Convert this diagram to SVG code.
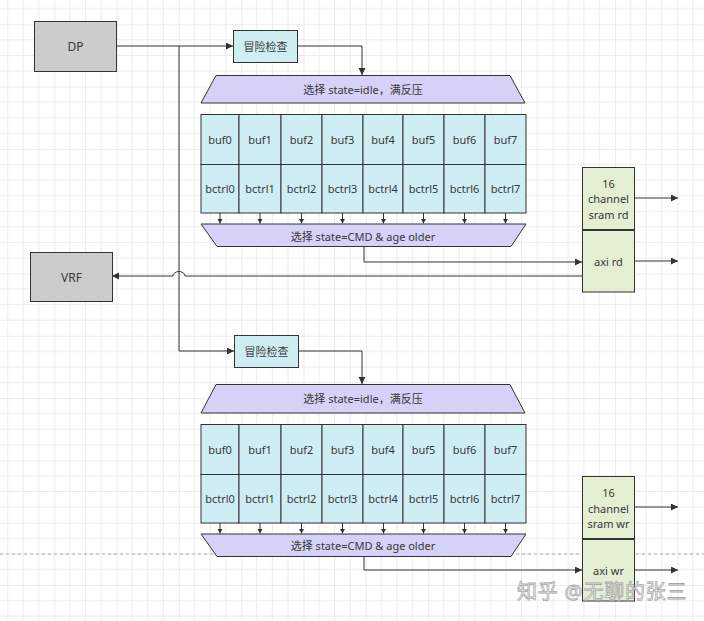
<svg xmlns="http://www.w3.org/2000/svg" width="704" height="621" viewBox="0 0 704 621">
<defs>
<pattern id="grid" patternUnits="userSpaceOnUse" x="-8" y="-38" width="62.3" height="62.3">
<rect x="15.08" y="0" width="1" height="62.3" fill="#ebebeb"/>
<rect x="30.65" y="0" width="1" height="62.3" fill="#ebebeb"/>
<rect x="46.23" y="0" width="1" height="62.3" fill="#ebebeb"/>
<rect x="0" y="15.08" width="62.3" height="1" fill="#ebebeb"/>
<rect x="0" y="30.65" width="62.3" height="1" fill="#ebebeb"/>
<rect x="0" y="46.23" width="62.3" height="1" fill="#ebebeb"/>
<rect x="-0.5" y="0" width="1" height="62.3" fill="#dadada"/>
<rect x="0" y="-0.5" width="62.3" height="1" fill="#dadada"/>
</pattern>
<marker id="arr" markerUnits="userSpaceOnUse" markerWidth="8" markerHeight="8" refX="7" refY="3.5" orient="auto">
<path d="M0,0 L7,3.5 L0,7 Z" fill="#333"/>
</marker>
<marker id="arrs" markerUnits="userSpaceOnUse" markerWidth="6" markerHeight="6" refX="5" refY="2.75" orient="auto">
<path d="M0,0 L5,2.75 L0,5.5 Z" fill="#333"/>
</marker>
</defs>
<style>
text{font-family:"Noto Sans","Noto Sans CJK SC",sans-serif;font-size:11px;fill:#383838;text-anchor:middle;dominant-baseline:central}
.gray{fill:#cccccc;stroke:#333;stroke-width:1}
.cyan{fill:#cfeef4;stroke:#333;stroke-width:1}
.lav{fill:#d5d1f7;stroke:#333;stroke-width:1}
.green{fill:#e3eed3;stroke:#333;stroke-width:1}
.ln{fill:none;stroke:#333;stroke-width:1}
.big{font-size:12px}
</style>
<rect width="704" height="621" fill="#fff"/>
<rect width="704" height="621" fill="url(#grid)"/>
<line x1="0" y1="554" x2="704" y2="554" stroke="#aaa" stroke-width="1" stroke-dasharray="3 3"/>

<g id="connectors">
<path class="ln" d="M116 46 H233" marker-end="url(#arr)"/>
<path class="ln" d="M179 46 V351 H234" marker-end="url(#arr)"/>
<path class="ln" d="M297 46 H362 V75" marker-end="url(#arr)"/>
<path class="ln" d="M298 351 H362 V384" marker-end="url(#arr)"/>
<path class="ln" d="M220 213 V223.5" marker-end="url(#arrs)"/>
<path class="ln" d="M260 213 V223.5" marker-end="url(#arrs)"/>
<path class="ln" d="M301.5 213 V223.5" marker-end="url(#arrs)"/>
<path class="ln" d="M342.5 213 V223.5" marker-end="url(#arrs)"/>
<path class="ln" d="M383.5 213 V223.5" marker-end="url(#arrs)"/>
<path class="ln" d="M423.5 213 V223.5" marker-end="url(#arrs)"/>
<path class="ln" d="M464.5 213 V223.5" marker-end="url(#arrs)"/>
<path class="ln" d="M505.5 213 V223.5" marker-end="url(#arrs)"/>
<path class="ln" d="M220 523 V533.5" marker-end="url(#arrs)"/>
<path class="ln" d="M260 523 V533.5" marker-end="url(#arrs)"/>
<path class="ln" d="M301.5 523 V533.5" marker-end="url(#arrs)"/>
<path class="ln" d="M342.5 523 V533.5" marker-end="url(#arrs)"/>
<path class="ln" d="M383.5 523 V533.5" marker-end="url(#arrs)"/>
<path class="ln" d="M423.5 523 V533.5" marker-end="url(#arrs)"/>
<path class="ln" d="M464.5 523 V533.5" marker-end="url(#arrs)"/>
<path class="ln" d="M505.5 523 V533.5" marker-end="url(#arrs)"/>
<path class="ln" d="M364 246 V262 H582" marker-end="url(#arr)"/>
<path class="ln" d="M364 556 V570 H582" marker-end="url(#arr)"/>
<path class="ln" d="M582 276 H185 A6 4.5 0 0 0 173 276 H112" marker-end="url(#arr)"/>
<path class="ln" d="M634 198 H678" marker-end="url(#arr)"/>
<path class="ln" d="M634 261 H678" marker-end="url(#arr)"/>
<path class="ln" d="M634 507 H678" marker-end="url(#arr)"/>
<path class="ln" d="M634 570 H678" marker-end="url(#arr)"/>
</g>

<g id="dp"><rect class="gray" x="34.5" y="21.5" width="82" height="50"/><text class="big" x="75.5" y="46.5">DP</text></g>
<g id="vrf"><rect class="gray" x="30.5" y="252.5" width="82" height="49"/><text class="big" x="71.5" y="277">VRF</text></g>

<g id="hazard1"><rect class="cyan" x="233.5" y="30.5" width="64" height="32"/><text x="265.5" y="46.5">冒险检查</text></g>
<g id="hazard2"><rect class="cyan" x="234.5" y="335.5" width="64" height="32"/><text x="266.5" y="351.5">冒险检查</text></g>

<g id="sel-idle-1"><polygon class="lav" points="216,75.5 510,75.5 525,103 201,103"/><text x="363" y="89">选择 state=idle，满反压</text></g>
<g id="sel-cmd-1"><polygon class="lav" points="201,224 526,224 511,246.5 217,246.5"/><text x="363" y="236">选择 state=CMD &amp; age older</text></g>
<g id="sel-idle-2"><polygon class="lav" points="216,384.5 510,384.5 525,413 201,413"/><text x="363" y="398.5">选择 state=idle，满反压</text></g>
<g id="sel-cmd-2"><polygon class="lav" points="201,534 526,534 511,556.5 217,556.5"/><text x="363" y="545.5">选择 state=CMD &amp; age older</text></g>

<g id="bufs1">
<g id="buf0-1"><rect class="cyan" x="201" y="114.5" width="38" height="50"/><rect class="cyan" x="201" y="164.5" width="38" height="48.5"/><text x="220" y="139.5">buf0</text><text x="220" y="188.5">bctrl0</text></g>
<g id="buf1-1"><rect class="cyan" x="239" y="114.5" width="42" height="50"/><rect class="cyan" x="239" y="164.5" width="42" height="48.5"/><text x="260" y="139.5">buf1</text><text x="260" y="188.5">bctrl1</text></g>
<g id="buf2-1"><rect class="cyan" x="281" y="114.5" width="41" height="50"/><rect class="cyan" x="281" y="164.5" width="41" height="48.5"/><text x="301.5" y="139.5">buf2</text><text x="301.5" y="188.5">bctrl2</text></g>
<g id="buf3-1"><rect class="cyan" x="322" y="114.5" width="41" height="50"/><rect class="cyan" x="322" y="164.5" width="41" height="48.5"/><text x="342.5" y="139.5">buf3</text><text x="342.5" y="188.5">bctrl3</text></g>
<g id="buf4-1"><rect class="cyan" x="363" y="114.5" width="40" height="50"/><rect class="cyan" x="363" y="164.5" width="40" height="48.5"/><text x="383" y="139.5">buf4</text><text x="383" y="188.5">bctrl4</text></g>
<g id="buf5-1"><rect class="cyan" x="403" y="114.5" width="41" height="50"/><rect class="cyan" x="403" y="164.5" width="41" height="48.5"/><text x="423.5" y="139.5">buf5</text><text x="423.5" y="188.5">bctrl5</text></g>
<g id="buf6-1"><rect class="cyan" x="444" y="114.5" width="41" height="50"/><rect class="cyan" x="444" y="164.5" width="41" height="48.5"/><text x="464.5" y="139.5">buf6</text><text x="464.5" y="188.5">bctrl6</text></g>
<g id="buf7-1"><rect class="cyan" x="485" y="114.5" width="41" height="50"/><rect class="cyan" x="485" y="164.5" width="41" height="48.5"/><text x="505.5" y="139.5">buf7</text><text x="505.5" y="188.5">bctrl7</text></g>
</g>

<g id="bufs2">
<g id="buf0-2"><rect class="cyan" x="201" y="424.5" width="38" height="50"/><rect class="cyan" x="201" y="474.5" width="38" height="48.5"/><text x="220" y="449.5">buf0</text><text x="220" y="498.5">bctrl0</text></g>
<g id="buf1-2"><rect class="cyan" x="239" y="424.5" width="42" height="50"/><rect class="cyan" x="239" y="474.5" width="42" height="48.5"/><text x="260" y="449.5">buf1</text><text x="260" y="498.5">bctrl1</text></g>
<g id="buf2-2"><rect class="cyan" x="281" y="424.5" width="41" height="50"/><rect class="cyan" x="281" y="474.5" width="41" height="48.5"/><text x="301.5" y="449.5">buf2</text><text x="301.5" y="498.5">bctrl2</text></g>
<g id="buf3-2"><rect class="cyan" x="322" y="424.5" width="41" height="50"/><rect class="cyan" x="322" y="474.5" width="41" height="48.5"/><text x="342.5" y="449.5">buf3</text><text x="342.5" y="498.5">bctrl3</text></g>
<g id="buf4-2"><rect class="cyan" x="363" y="424.5" width="40" height="50"/><rect class="cyan" x="363" y="474.5" width="40" height="48.5"/><text x="383" y="449.5">buf4</text><text x="383" y="498.5">bctrl4</text></g>
<g id="buf5-2"><rect class="cyan" x="403" y="424.5" width="41" height="50"/><rect class="cyan" x="403" y="474.5" width="41" height="48.5"/><text x="423.5" y="449.5">buf5</text><text x="423.5" y="498.5">bctrl5</text></g>
<g id="buf6-2"><rect class="cyan" x="444" y="424.5" width="41" height="50"/><rect class="cyan" x="444" y="474.5" width="41" height="48.5"/><text x="464.5" y="449.5">buf6</text><text x="464.5" y="498.5">bctrl6</text></g>
<g id="buf7-2"><rect class="cyan" x="485" y="424.5" width="41" height="50"/><rect class="cyan" x="485" y="474.5" width="41" height="48.5"/><text x="505.5" y="449.5">buf7</text><text x="505.5" y="498.5">bctrl7</text></g>
</g>

<g id="sram-rd"><rect class="green" x="582.5" y="167.5" width="52" height="62.5"/><text x="608.5" y="183">16</text><text x="608.5" y="198.5">channel</text><text x="608.5" y="214">sram rd</text></g>
<g id="axi-rd"><rect class="green" x="582.5" y="230" width="52" height="62"/><text x="608.5" y="261.5">axi rd</text></g>
<line x1="582.5" y1="230" x2="634.5" y2="230" stroke="#333" stroke-width="2"/>
<g id="sram-wr"><rect class="green" x="582.5" y="476.5" width="52" height="62.5"/><text x="608.5" y="492.5">16</text><text x="608.5" y="508">channel</text><text x="608.5" y="523.5">sram wr</text></g>
<g id="axi-wr"><rect class="green" x="582.5" y="539" width="52" height="62"/><text x="608.5" y="570">axi wr</text></g>
<line x1="582.5" y1="539" x2="634.5" y2="539" stroke="#333" stroke-width="2"/>

<text x="517" y="591" style="font-size:20px;letter-spacing:0.8px;text-anchor:start;fill:#ffffff;fill-opacity:0.85;stroke:#a8a8a8;stroke-width:0.8">知乎 @无聊的张三</text>
</svg>
